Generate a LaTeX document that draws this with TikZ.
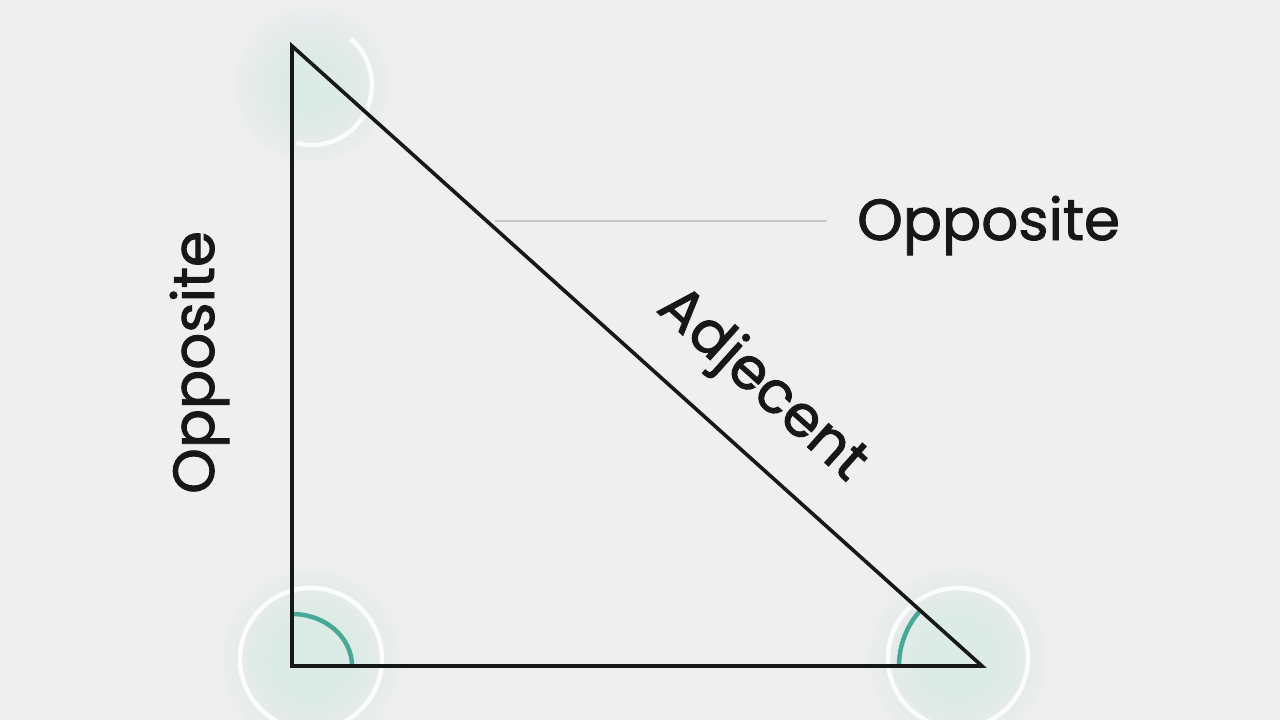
\documentclass[tikz,border=0pt]{standalone}
\usepackage{fontspec}
\setmainfont{Poppins}[FakeBold=1.6]
\definecolor{bgc}{RGB}{239,239,239}
\definecolor{inkc}{RGB}{22,24,24}
\definecolor{tealc}{RGB}{72,168,152}
\definecolor{glowc}{RGB}{205,235,228}
\definecolor{linec}{RGB}{200,200,200}
\tikzset{
  tri/.style={draw=inkc,line width=3.6pt,line join=miter},
  ring/.style={draw=white,line width=4.5pt,opacity=0.85},
  glow/.style={fill=glowc,opacity=0.06},
  anglearc/.style={draw=tealc,line width=4.5pt},
  lbl/.style={text=inkc,font=\fontsize{58}{58}\selectfont,inner sep=0pt},
  leader/.style={draw=linec,line width=1.8pt}
}
\begin{document}
\begin{tikzpicture}[x=1pt,y=-1pt]
\fill[bgc] (0,0) rectangle (1280,720);
\useasboundingbox (0,0) rectangle (1280,720);
% soft glows
\foreach \r in {40,46,...,94} {
  \fill[glow] (311,659) circle[radius=\r pt];
  \fill[glow] (958,658) circle[radius=\r pt];
}
\foreach \r in {34,40,...,82} {
  \fill[glow] (312,85) circle[radius=\r pt];
}
% rings
\draw[ring] (312,85) ++(50:60pt) arc[start angle=50,end angle=-105,radius=60pt];
\draw[ring] (311,659) circle[radius=71pt];
\draw[ring] (958,658) circle[radius=70pt];
% triangle vertices
\coordinate (A) at (292,46);
\coordinate (B) at (292,666);
\coordinate (C) at (982,666);
% angle arcs
\draw[anglearc] (B) ++(0:60pt) arc[start angle=0,end angle=90,x radius=60pt,y radius=52pt];
\draw[anglearc] (C) ++(138:83pt) arc[start angle=138,end angle=180,radius=83pt];
% triangle
\draw[tri] (A) -- (B) -- (C) -- cycle;
% labels
\node[lbl,anchor=base west] (opp) at (857,240) {Opposite};
\node[lbl,anchor=base west,rotate=90] (oppl) at (214,494) {Opposite};
\node[lbl,rotate=-41.9] (adj) at (761,386) {Adjecent};
\coordinate (lstart) at (495,221);
\coordinate (lend) at ([xshift=-30pt]opp.west |- lstart);
\draw[leader] (lstart) -- (lend);
\end{tikzpicture}
\end{document}
